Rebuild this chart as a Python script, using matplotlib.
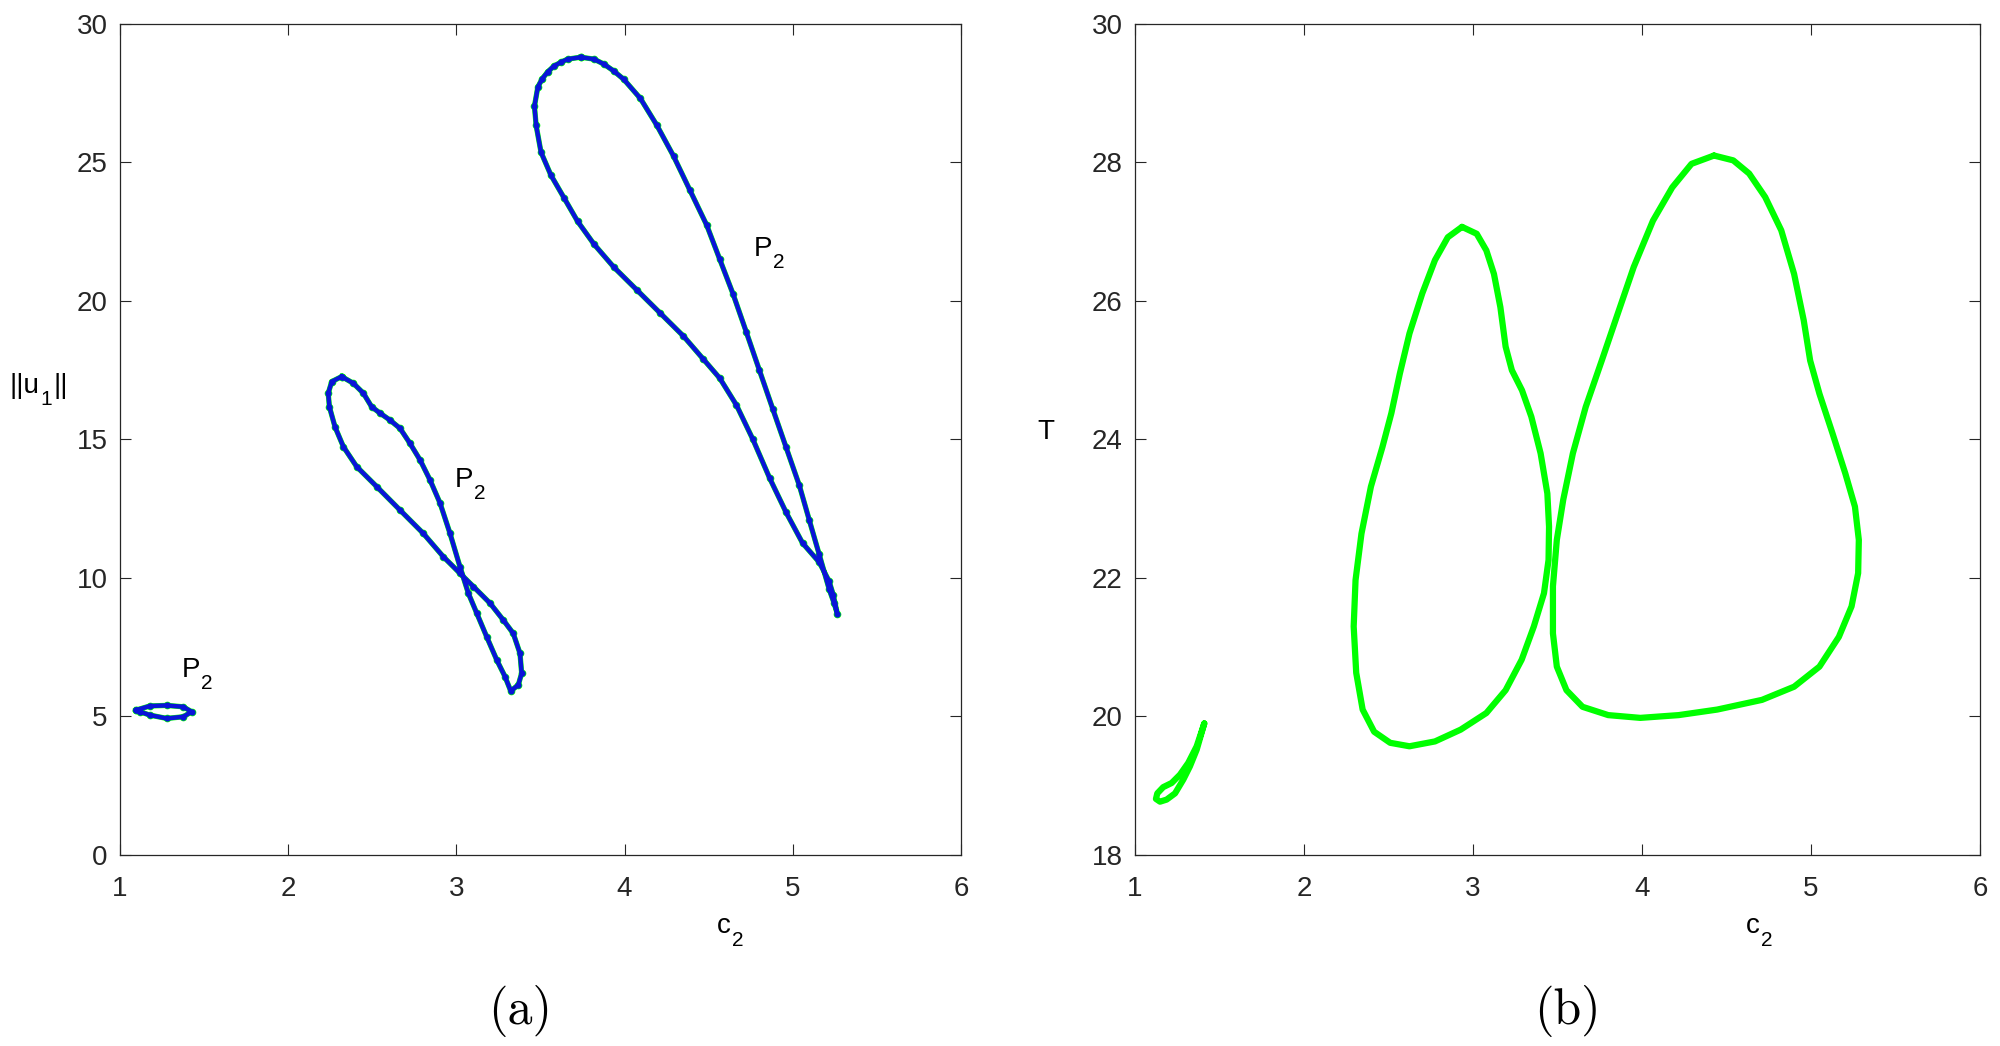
import numpy as np
import matplotlib.pyplot as plt

plt.rcParams['font.family'] = ['Liberation Sans', 'DejaVu Sans']

# ---------------------------------------------------------------------------
# (a) ||u1|| vs c2, three P2 branches
small_c2 = [1.095, 1.178, 1.278, 1.376, 1.426, 1.376, 1.278, 1.178, 1.119, 1.095]
small_u = [5.23, 5.38, 5.40, 5.35, 5.17, 4.99, 4.93, 5.05, 5.17, 5.23]

mid_c2 = [2.318, 2.387, 2.447, 2.496, 2.546, 2.605, 2.665, 2.724, 2.784, 2.843,
          2.903, 2.962, 3.021, 3.071, 3.121, 3.180, 3.240, 3.289, 3.323, 3.368,
          3.388, 3.378, 3.338, 3.279, 3.200, 3.101, 3.021, 2.922, 2.803, 2.665,
          2.526, 2.407, 2.328, 2.278, 2.245, 2.238, 2.259, 2.318]
mid_u = [17.27, 17.03, 16.67, 16.18, 15.95, 15.70, 15.40, 14.86, 14.26, 13.54,
         12.70, 11.61, 10.41, 9.45, 8.73, 7.88, 7.04, 6.44, 5.92, 6.14,
         6.56, 7.28, 8.00, 8.48, 9.09, 9.69, 10.17, 10.77, 11.61, 12.45,
         13.30, 14.02, 14.74, 15.46, 16.18, 16.67, 17.09, 17.27]

big_c2 = [3.740, 3.818, 3.877, 3.936, 3.995, 4.094, 4.192, 4.291, 4.389, 4.488,
          4.566, 4.645, 4.724, 4.802, 4.881, 4.960, 5.039, 5.098, 5.157, 5.216,
          5.245, 5.265, 5.240, 5.216, 5.157, 5.058, 4.960, 4.862, 4.763, 4.665,
          4.566, 4.468, 4.350, 4.212, 4.074, 3.936, 3.818, 3.720, 3.641, 3.562,
          3.503, 3.474, 3.464, 3.484, 3.510, 3.543, 3.580, 3.622, 3.661, 3.740]
big_u = [28.80, 28.73, 28.55, 28.30, 28.00, 27.31, 26.34, 25.23, 23.99, 22.74,
         21.50, 20.25, 18.87, 17.49, 16.10, 14.72, 13.34, 12.09, 10.85, 9.60,
         9.10, 8.70, 9.40, 9.88, 10.57, 11.26, 12.37, 13.61, 15.00, 16.24,
         17.21, 17.90, 18.73, 19.56, 20.39, 21.22, 22.05, 22.88, 23.71, 24.54,
         25.37, 26.34, 27.03, 27.72, 28.02, 28.27, 28.48, 28.62, 28.73, 28.80]

# P2 labels (left edge / baseline of "P")
labels_a = [(1.367, 6.44), (2.992, 13.30), (4.77, 21.64)]

# ---------------------------------------------------------------------------
# (b) period T vs c2
t1_c2 = [1.41, 1.365, 1.315, 1.266, 1.217, 1.167, 1.132, 1.124, 1.148, 1.187,
         1.237, 1.286, 1.325, 1.365, 1.41]
t1_T = [19.90, 19.57, 19.33, 19.16, 19.04, 18.98, 18.89, 18.81, 18.77, 18.80,
        18.89, 19.09, 19.28, 19.52, 19.90]

t2_c2 = [2.935, 3.022, 3.079, 3.124, 3.162, 3.193, 3.230, 3.290, 3.345, 3.400,
         3.440, 3.450, 3.447, 3.420, 3.360, 3.288, 3.193, 3.079, 2.927, 2.775,
         2.624, 2.510, 2.415, 2.347, 2.309, 2.294, 2.305, 2.340, 2.396, 2.464,
         2.517, 2.567, 2.624, 2.700, 2.775, 2.851, 2.935]
t2_T = [27.07, 26.97, 26.73, 26.39, 25.91, 25.34, 25.00, 24.71, 24.33, 23.80,
        23.22, 22.74, 22.26, 21.78, 21.30, 20.82, 20.38, 20.05, 19.81, 19.64,
        19.57, 19.62, 19.78, 20.10, 20.63, 21.30, 21.97, 22.64, 23.32, 23.89,
        24.38, 24.95, 25.53, 26.11, 26.59, 26.92, 27.07]

t3_c2 = [4.426, 4.540, 4.634, 4.729, 4.824, 4.900, 4.957, 4.995, 5.050, 5.127,
         5.203, 5.260, 5.283, 5.279, 5.240, 5.165, 5.050, 4.900, 4.710, 4.445,
         4.217, 3.990, 3.800, 3.648, 3.553, 3.496, 3.473, 3.473, 3.496, 3.534,
         3.591, 3.667, 3.762, 3.857, 3.951, 4.065, 4.179, 4.293, 4.426]
t3_T = [28.10, 28.03, 27.84, 27.50, 27.02, 26.39, 25.72, 25.14, 24.66, 24.09,
        23.51, 23.03, 22.55, 22.07, 21.59, 21.15, 20.72, 20.43, 20.24, 20.10,
        20.02, 19.98, 20.02, 20.14, 20.38, 20.72, 21.20, 21.88, 22.55, 23.13,
        23.80, 24.47, 25.14, 25.82, 26.49, 27.16, 27.64, 27.98, 28.10]

GREEN = '#00ff00'
BLUE = '#0a14d8'
AX_COL = '#262626'
FS = 20

fig = plt.figure(figsize=(20, 10.46), dpi=100)
ax1 = fig.add_axes([0.06, 0.1826, 0.4205, 0.7945])
ax2 = fig.add_axes([0.5675, 0.1826, 0.4225, 0.7945])
renderer = fig.canvas.get_renderer()


def sub_text(ax, x, y, base, sub, tail='', transform=None):
    # MATLAB-style subscript: smaller digit, dropped well below the baseline
    if transform is None:
        transform = ax.transData
    t = ax.text(x, y, base, fontsize=FS, ha='left', va='baseline',
                transform=transform, color='k')
    w = t.get_window_extent(renderer).width * 72 / fig.dpi
    s = ax.annotate(sub, xy=(x, y), xycoords=transform, xytext=(w + 0.5, -9),
                    textcoords='offset points', fontsize=15, ha='left',
                    va='baseline', color='k')
    if tail:
        ws = s.get_window_extent(renderer).width * 72 / fig.dpi
        ax.annotate(tail, xy=(x, y), xycoords=transform,
                    xytext=(w + ws + 1.5, 0), textcoords='offset points',
                    fontsize=FS, ha='left', va='baseline', color='k')


for ax in (ax1, ax2):
    ax.tick_params(direction='in', length=8, width=0.8, top=True, right=True,
                   labelsize=FS, colors=AX_COL)
    ax.tick_params(axis='x', pad=15)
    ax.tick_params(axis='y', pad=9)
    for s in ax.spines.values():
        s.set_color(AX_COL)
        s.set_linewidth(0.9)
    ax.set_xlim(1, 6)
    ax.set_xticks([1, 2, 3, 4, 5, 6])

# (a)
for cx, uy in [(small_c2, small_u), (mid_c2, mid_u), (big_c2, big_u)]:
    ax1.plot(cx, uy, color=GREEN, lw=3.8, marker='o', ms=4.5, zorder=2)
    ax1.plot(cx, uy, color=BLUE, lw=3.2, marker='.', ms=7, zorder=3)
for lx, ly in labels_a:
    sub_text(ax1, lx, ly, 'P', '2')
ax1.set_ylim(0, 30)
ax1.set_yticks(np.arange(0, 31, 5))
sub_text(ax1, -0.1308, 0.556, '||u', '1', '||', transform=ax1.transAxes)
sub_text(ax1, 0.710, -0.094, 'c', '2', transform=ax1.transAxes)

# (b)
for cx, ty in [(t1_c2, t1_T), (t2_c2, t2_T), (t3_c2, t3_T)]:
    ax2.plot(cx, ty, color=GREEN, lw=4.5, solid_capstyle='round',
             solid_joinstyle='round')
ax2.set_ylim(18, 30)
ax2.set_yticks(np.arange(18, 31, 2))
ax2.text(-0.116, 0.5006, 'T', transform=ax2.transAxes, fontsize=FS,
         ha='left', va='baseline')
sub_text(ax2, 0.723, -0.094, 'c', '2', transform=ax2.transAxes)

fig.text(0.26, 0.033, '(a)', family='cmr10', fontsize=36, ha='center', va='center')
fig.text(0.7835, 0.033, '(b)', family='cmr10', fontsize=36, ha='center', va='center')

fig.savefig('out.png', dpi=100, facecolor='white')
